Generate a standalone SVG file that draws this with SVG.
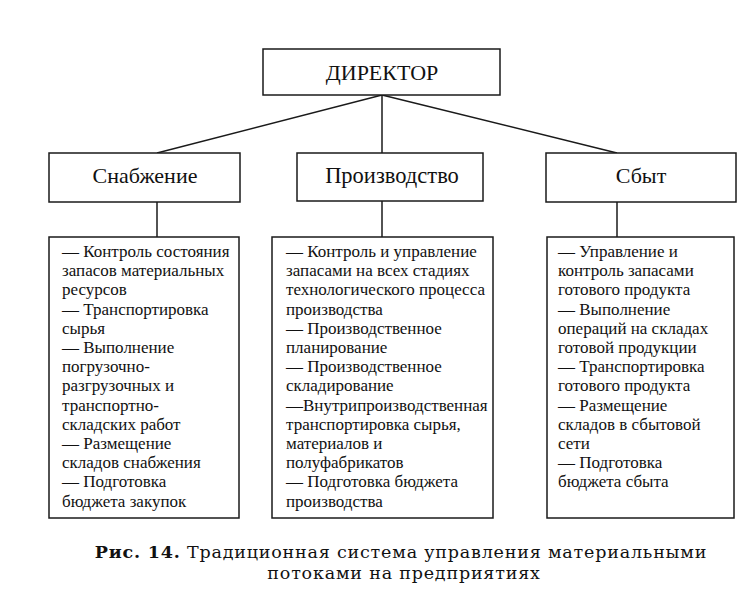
<svg xmlns="http://www.w3.org/2000/svg" width="752" height="595" viewBox="0 0 752 595">
<style>
.box{fill:#fff;stroke:#1a1a1a;stroke-width:1.5}
.ln{stroke:#1a1a1a;stroke-width:1.5;fill:none}
.t{font-family:"Liberation Serif","Times New Roman",serif;fill:#111}
.h{font-size:22px;text-anchor:middle}
.b{font-size:17px}
.cap{font-family:"DejaVu Serif",serif;font-size:17.5px;letter-spacing:0.8px;fill:#111;text-anchor:middle}
</style>
<rect width="752" height="595" fill="#fff"/>
<g id="connectors">
<line class="ln" x1="382" y1="95" x2="157" y2="153"/>
<line class="ln" x1="382" y1="95" x2="382" y2="153"/>
<line class="ln" x1="382" y1="95" x2="617" y2="153"/>
<line class="ln" x1="157" y1="202" x2="157" y2="237"/>
<line class="ln" x1="382" y1="201" x2="382" y2="237"/>
<line class="ln" x1="617" y1="202" x2="617" y2="237"/>
</g>
<g id="director">
<rect class="box" x="263" y="49" width="237" height="46"/>
<text class="t h" x="382" y="80">ДИРЕКТОР</text>
</g>
<g id="supply">
<rect class="box" x="49" y="153" width="191" height="49"/>
<text class="t h" x="145" y="183">Снабжение</text>
</g>
<g id="production">
<rect class="box" x="297" y="153" width="186" height="48"/>
<text class="t h" x="392" y="183" style="font-size:22.5px">Производство</text>
</g>
<g id="sales">
<rect class="box" x="546" y="153" width="190" height="49"/>
<text class="t h" x="641" y="183">Сбыт</text>
</g>
<g id="supply-tasks">
<rect class="box" x="49" y="237" width="190" height="281"/>
<text class="t b" x="62" y="257">
<tspan x="62" y="257">— Контроль состояния</tspan>
<tspan x="62" dy="19.2">запасов материальных</tspan>
<tspan x="62" dy="19.2">ресурсов</tspan>
<tspan x="62" dy="19.2">— Транспортировка</tspan>
<tspan x="62" dy="19.2">сырья</tspan>
<tspan x="62" dy="19.2">— Выполнение</tspan>
<tspan x="62" dy="19.2">погрузочно-</tspan>
<tspan x="62" dy="19.2">разгрузочных и</tspan>
<tspan x="62" dy="19.2">транспортно-</tspan>
<tspan x="62" dy="19.2">складских работ</tspan>
<tspan x="62" dy="19.2">— Размещение</tspan>
<tspan x="62" dy="19.2">складов снабжения</tspan>
<tspan x="62" dy="19.2">— Подготовка</tspan>
<tspan x="62" dy="19.2">бюджета закупок</tspan>
</text>
</g>
<g id="production-tasks">
<rect class="box" x="272" y="237" width="221" height="281"/>
<text class="t b" x="286" y="257">
<tspan x="286" y="257">— Контроль и управление</tspan>
<tspan x="286" dy="19.2">запасами на всех стадиях</tspan>
<tspan x="286" dy="19.2">технологического процесса</tspan>
<tspan x="286" dy="19.2">производства</tspan>
<tspan x="286" dy="19.2">— Производственное</tspan>
<tspan x="286" dy="19.2">планирование</tspan>
<tspan x="286" dy="19.2">— Производственное</tspan>
<tspan x="286" dy="19.2">складирование</tspan>
<tspan x="286" dy="19.2">—Внутрипроизводственная</tspan>
<tspan x="286" dy="19.2">транспортировка сырья,</tspan>
<tspan x="286" dy="19.2">материалов и</tspan>
<tspan x="286" dy="19.2">полуфабрикатов</tspan>
<tspan x="286" dy="19.2">— Подготовка бюджета</tspan>
<tspan x="286" dy="19.2">производства</tspan>
</text>
</g>
<g id="sales-tasks">
<rect class="box" x="547" y="237" width="187" height="281"/>
<text class="t b" x="558" y="257">
<tspan x="558" y="257">— Управление и</tspan>
<tspan x="558" dy="19.2">контроль запасами</tspan>
<tspan x="558" dy="19.2">готового продукта</tspan>
<tspan x="558" dy="19.2">— Выполнение</tspan>
<tspan x="558" dy="19.2">операций на складах</tspan>
<tspan x="558" dy="19.2">готовой продукции</tspan>
<tspan x="558" dy="19.2">— Транспортировка</tspan>
<tspan x="558" dy="19.2">готового продукта</tspan>
<tspan x="558" dy="19.2">— Размещение</tspan>
<tspan x="558" dy="19.2">складов в сбытовой</tspan>
<tspan x="558" dy="19.2">сети</tspan>
<tspan x="558" dy="19.2">— Подготовка</tspan>
<tspan x="558" dy="19.2">бюджета сбыта</tspan>
</text>
</g>
<g id="caption">
<text class="cap" x="401" y="558"><tspan font-weight="bold">Рис. 14.</tspan> Традиционная система управления материальными</text>
<text class="cap" x="404" y="579">потоками на предприятиях</text>
</g>
</svg>
